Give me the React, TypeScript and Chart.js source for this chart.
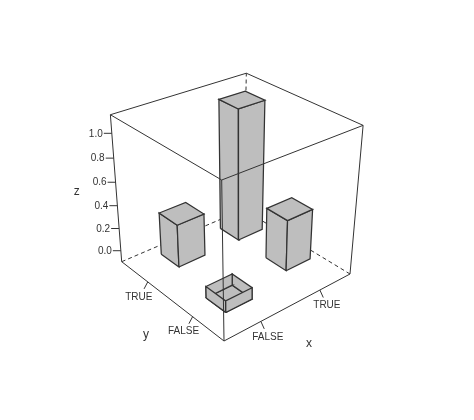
import { useEffect, useRef } from 'react'
import Chart from 'chart.js/auto'

// bar heights, one per x/y combination
const xLevels = ['FALSE', 'TRUE']
const yLevels = ['FALSE', 'TRUE']
const barX = [1, 0, 1, 0]
const barY = [1, 1, 0, 0]
const barZ = [1.125, 0.365, 0.435, -0.101]
const zTicks = [0, 0.2, 0.4, 0.6, 0.8, 1]
const zTickLabels = ['0.0', '0.2', '0.4', '0.6', '0.8', '1.0']

const zMin = -0.101
const zMax = 1.146
const xCenters = [0.27, 0.74]
const yCenters = [0.28, 0.72]
const halfX = 0.1
const halfY = 0.09

const INK = '#333333'
const BAR = '#bebebe'

// perspective camera, u/v/w are box coordinates in 0..1
function project(u: number, v: number, w: number) {
  const d = 1 + 0.118 * u + 0.1377 * v - 0.095 * w
  return {
    x: (224 + 167.31 * u - 85.54 * v - 23.36 * w + 3.5 * u ** 4 * w) / d,
    y: (341 - 34.66 * u - 43.27 * v - 178.1 * w) / d,
  }
}

const zToW = (z: number) => (z - zMin) / (zMax - zMin)

function lineSet(points: { x: number; y: number }[], dashed = false) {
  return {
    data: points,
    showLine: true,
    pointRadius: 0,
    tension: 0,
    fill: false,
    borderColor: INK,
    borderWidth: 1,
    borderDash: dashed ? [4, 3] : [],
  }
}

function faceSet(points: { x: number; y: number }[]) {
  return {
    ...lineSet([...points, points[0]]),
    fill: 'shape',
    backgroundColor: BAR,
    borderWidth: 1.25,
  }
}

function barFaces(i: number) {
  const u0 = xCenters[barX[i]] - halfX
  const u1 = xCenters[barX[i]] + halfX
  const v0 = yCenters[barY[i]] - halfY
  const v1 = yCenters[barY[i]] + halfY
  const base = zToW(0)
  const end = zToW(barZ[i])
  const level = (w: number) => [project(u0, v0, w), project(u1, v0, w), project(u1, v1, w), project(u0, v1, w)]
  const wall = (a: [number, number], b: [number, number]) => [
    project(a[0], a[1], Math.min(base, end)),
    project(b[0], b[1], Math.min(base, end)),
    project(b[0], b[1], Math.max(base, end)),
    project(a[0], a[1], Math.max(base, end)),
  ]
  const front = [
    faceSet(wall([u0, v1], [u0, v0])),
    faceSet(wall([u0, v0], [u1, v0])),
  ]
  if (barZ[i] >= 0) return [...front, faceSet(level(end))]
  // below zero the box is seen from above with no lid
  return [
    faceSet(level(end)),
    faceSet(wall([u1, v0], [u1, v1])),
    faceSet(wall([u0, v1], [u1, v1])),
    ...front,
  ]
}

function buildDatasets() {
  const back = project(1, 1, 0)
  const backTop = project(1, 1, 1)
  const sets: any[] = [
    lineSet([project(0, 1, 0), back], true),
    lineSet([project(1, 0, 0), back], true),
    lineSet([back, backTop], true),
  ]
  barZ.forEach((_, i) => sets.push(...barFaces(i)))

  // the rest of the cube goes over the bars
  sets.push(lineSet([project(0, 1, 1), backTop, project(1, 0, 1)]))
  sets.push(lineSet([project(0, 1, 1), project(0, 0, 1), project(1, 0, 1)]))
  sets.push(lineSet([project(0, 1, 0), project(0, 0, 0), project(1, 0, 0)]))
  sets.push(lineSet([project(0, 0, 0), project(0, 0, 1)]))
  sets.push(lineSet([project(0, 1, 0), project(0, 1, 1)]))
  sets.push(lineSet([project(1, 0, 0), project(1, 0, 1)]))

  zTicks.forEach((z) => {
    const p = project(0, 1, zToW(z))
    sets.push(lineSet([p, { x: p.x - 8, y: p.y }]))
  })
  yCenters.forEach((v) => {
    const p = project(0, v, 0)
    sets.push(lineSet([p, { x: p.x - 3.7, y: p.y + 7 }]))
  })
  xCenters.forEach((u) => {
    const p = project(u, 0, 0)
    sets.push(lineSet([p, { x: p.x + 3.4, y: p.y + 7.5 }]))
  })

  // first in the list is painted first
  return sets.map((s, i) => ({ ...s, order: sets.length - i }))
}

const axisText = {
  id: 'axisText',
  afterDraw(chart: Chart) {
    const { ctx } = chart
    const put = (text: string, x: number, y: number) => ctx.fillText(text, x, y)
    ctx.save()
    ctx.font = '10px "Liberation Sans", Arial, sans-serif'
    ctx.fillStyle = INK
    ctx.textAlign = 'center'
    ctx.textBaseline = 'middle'
    zTicks.forEach((z, i) => {
      const p = project(0, 1, zToW(z))
      put(zTickLabels[i], p.x - 16, p.y + 0.5)
    })
    yLevels.forEach((label, i) => {
      const p = project(0, yCenters[i], 0)
      put(label, p.x - 9, p.y + 15)
    })
    xLevels.forEach((label, i) => {
      const p = project(xCenters[i], 0, 0)
      put(label, p.x + 7, p.y + 15.6)
    })
    const xMid = project(0.5, 0, 0)
    const yMid = project(0, 0.5, 0)
    const zMid = project(0, 1, 0.5)
    ctx.font = '12px "Liberation Sans", Arial, sans-serif'
    put('x', xMid.x + 18.4, xMid.y + 38)
    put('y', yMid.x - 23.5, yMid.y + 36)
    put('z', zMid.x - 39.6, zMid.y + 0.5)
    ctx.restore()
  },
}

export default function App() {
  const canvasRef = useRef<HTMLCanvasElement>(null)

  useEffect(() => {
    if (!canvasRef.current) return
    const chart = new Chart(canvasRef.current, {
      type: 'scatter',
      data: { datasets: buildDatasets() },
      options: {
        animation: false,
        responsive: false,
        devicePixelRatio: 1,
        layout: { padding: 0 },
        scales: {
          x: { type: 'linear', display: false, min: 0, max: 474 },
          y: { type: 'linear', display: false, min: 0, max: 420, reverse: true },
        },
        plugins: {
          legend: { display: false },
          tooltip: { enabled: false },
          filler: { drawTime: 'beforeDatasetDraw' },
        },
      },
      plugins: [axisText],
    } as any)
    return () => chart.destroy()
  }, [])

  return (
    <div style={{ position: 'absolute', left: 0, top: 0, width: 474, height: 420, background: '#fff' }}>
      <canvas ref={canvasRef} width={474} height={420} style={{ display: 'block' }}></canvas>
    </div>
  )
}
